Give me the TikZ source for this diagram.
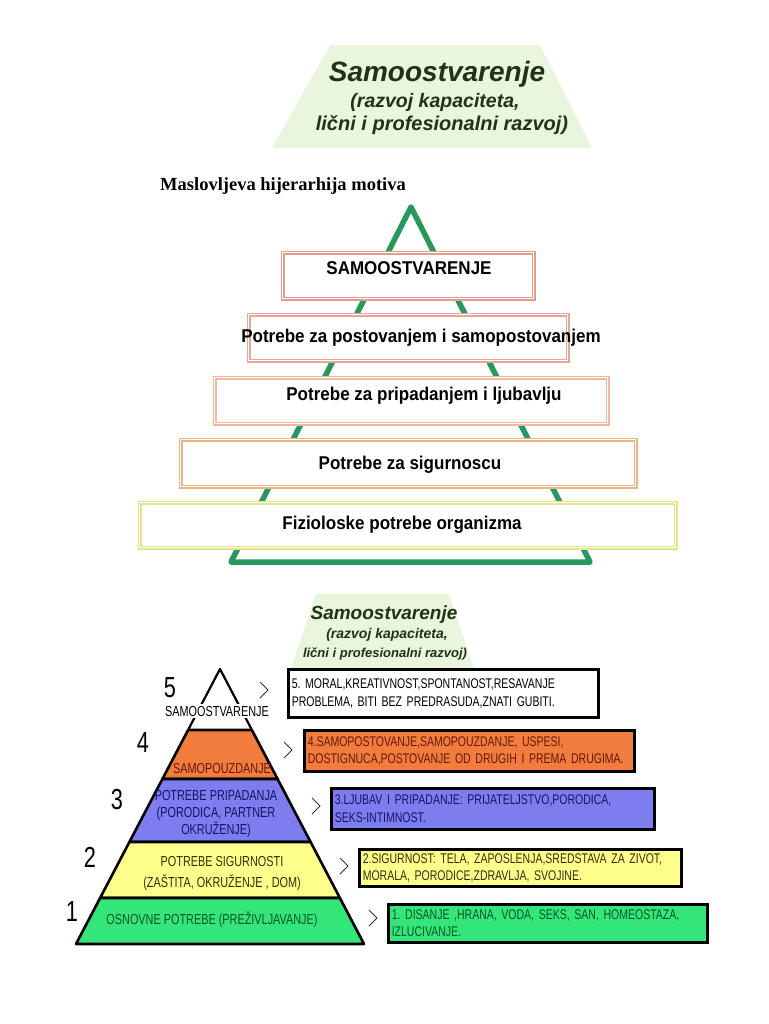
\documentclass[tikz,border=0pt]{standalone}
\usepackage{fontspec}
\setmainfont{Liberation Sans}
\newfontfamily\narrowfont[FakeStretch=0.75]{Liberation Sans}
\newfontfamily\boldnarrow[FakeStretch=0.92]{Liberation Sans}
\newfontfamily\titleserif{Liberation Serif}
\usepackage{tikz}
\usepackage{tkz-euclide}
\definecolor{paleleaf}{RGB}{233,245,220}
\definecolor{leafink}{RGB}{30,52,18}
\definecolor{pinegreen}{RGB}{40,152,92}
\definecolor{rimA}{RGB}{226,158,140}
\definecolor{rimB}{RGB}{230,168,150}
\definecolor{rimC}{RGB}{236,186,160}
\definecolor{rimD}{RGB}{236,182,132}
\definecolor{rimE}{RGB}{232,228,140}
\definecolor{tangerine}{RGB}{242,124,62}
\definecolor{periwinkle}{RGB}{125,125,240}
\definecolor{lemon}{RGB}{255,255,140}
\definecolor{mint}{RGB}{52,230,122}
\definecolor{inkorange}{RGB}{100,25,10}
\definecolor{inkblue}{RGB}{20,20,100}
\definecolor{inkyellow}{RGB}{55,45,10}
\definecolor{inkgreen}{RGB}{10,85,40}
\frenchspacing
\begin{document}
\begin{tikzpicture}[x=1pt, y=-1pt,
    rimbox/.style={draw=#1, double=white, double distance=1.8pt, line width=1.1pt, fill=white, anchor=north west, inner sep=0pt},
    rimtext/.style={font=\boldnarrow\bfseries\fontsize{18.5}{20}\selectfont, inner sep=0pt},
    leafhead/.style={text=leafink, font=\bfseries\itshape\fontsize{#1}{#1}\selectfont, inner sep=0pt, anchor=base},
    tier/.style={fill=#1, draw=black, line width=2.6pt, line join=round},
    tiertext/.style={font=\narrowfont\fontsize{14.5}{17}\selectfont, inner sep=0pt, text=#1},
    tiernum/.style={font=\narrowfont\fontsize{29}{29}\selectfont, inner sep=0pt},
    notebox/.style={draw=black, line width=2.6pt, anchor=north west, inner sep=3.5pt, align=left, font=\narrowfont\fontsize{14}{17.5}\selectfont},
    chevron/.style={draw=black!80, line width=1pt}]
  \useasboundingbox (0,0) rectangle (768,1024);

  \tkzDefPoints{330/45/Ta, 540/45/Tb, 592/148/Tc, 272/148/Td}
  \tkzFillPolygon[color=paleleaf](Ta,Tb,Tc,Td)
  \node[leafhead=28] (crown) at (437,82) {Samoostvarenje};
  \node[leafhead=19.5] (crowna) at (435,108) {(razvoj kapaciteta,};
  \node[leafhead=20] (crownb) at (442,131) {lični i profesionalni razvoj)};

  \node[font=\titleserif\bfseries\fontsize{18.5}{20}\selectfont, inner sep=0pt, anchor=base west] (title) at (160,191) {Maslovljeva hijerarhija motiva};

  \tkzDefPoints{411/207/A, 590/562/B, 231/562/C}
  \tkzDrawPolygon[color=pinegreen, line width=5.5pt](A,B,C)

  \node[rimbox=rimA, minimum width=251pt, minimum height=46pt] (need5) at (282,252) {};
  \node[rimbox=rimB, minimum width=319pt, minimum height=46pt] (need4) at (248,314) {};
  \node[rimbox=rimC, minimum width=393pt, minimum height=46pt] (need3) at (214,377) {};
  \node[rimbox=rimD, minimum width=455pt, minimum height=47pt] (need2) at (180,439) {};
  \node[rimbox=rimE, minimum width=536pt, minimum height=45pt] (need1) at (139,502) {};
  \node[rimtext] (needt5) at (409,268) {SAMOOSTVARENJE};
  \node[rimtext] (needt4) at (421,338) {Potrebe za postovanjem i samopostovanjem};
  \node[rimtext] (needt3) at (424,396) {Potrebe za pripadanjem i ljubavlju};
  \node[rimtext] (needt2) at (410,465) {Potrebe za sigurnoscu};
  \node[rimtext] (needt1) at (402,525) {Fizioloske potrebe organizma};

  \tkzDefPoints{316/594/Sa, 449/594/Sb, 474/668/Sc, 291/668/Sd}
  \tkzFillPolygon[color=paleleaf](Sa,Sb,Sc,Sd)
  \node[leafhead=19] (peak) at (384,619) {Samoostvarenje};
  \node[leafhead=14] (peaka) at (387,638) {(razvoj kapaciteta,};
  \node[leafhead=13] (peakb) at (385,657) {lični i profesionalni razvoj)};

  \tkzDefPoints{220/669/P, 188.1/730/L1, 251.9/730/R1, 162.4/779/L2, 277.6/779/R2,
    129.4/842/L3, 310.6/842/R3, 100.1/898/L4, 339.9/898/R4, 76/944/L5, 364/944/R5}
  \tkzDrawSegments[line width=2.2pt](P,L1 P,R1)
  \tkzDrawPolygon[tier=tangerine](L1,R1,R2,L2)
  \tkzDrawPolygon[tier=periwinkle](L2,R2,R3,L3)
  \tkzDrawPolygon[tier=lemon](L3,R3,R4,L4)
  \tkzDrawPolygon[tier=mint](L4,R4,R5,L5)

  \node[tiertext=black, fill=white, inner sep=2pt] (lab5) at (217,711) {SAMOOSTVARENJE};
  \node[tiertext=inkorange] (lab4) at (222,768) {SAMOPOUZDANJE};
  \node[tiertext=inkblue, align=center] (lab3) at (216,814) {POTREBE PRIPADANJA\\(PORODICA, PARTNER\\OKRUŽENJE)};
  \node[tiertext=inkyellow, align=center] (lab2) at (222,873) {POTREBE SIGURNOSTI\\[4pt](ZAŠTITA, OKRUŽENJE , DOM)};
  \node[tiertext=inkgreen] (lab1) at (212,920) {OSNOVNE POTREBE (PREŽIVLJAVANJE)};

  \node[tiernum] (num5) at (170,688) {5};
  \node[tiernum] (num4) at (143,743) {4};
  \node[tiernum] (num3) at (117,800) {3};
  \node[tiernum] (num2) at (90,857) {2};
  \node[tiernum] (num1) at (72,912) {1};

  \draw[chevron] (260,682) -- (268,690) -- (260,698);
  \draw[chevron] (284,742) -- (292,750) -- (284,758);
  \draw[chevron] (312,798) -- (320,806) -- (312,814);
  \draw[chevron] (340,858) -- (348,866) -- (340,874);
  \draw[chevron] (369,910) -- (377,918) -- (369,926);

  \node[notebox, fill=white, text width=303pt, minimum height=48pt] (note5) at (287,668)
    {5. MORAL,KREATIVNOST,SPONTANOST,RESAVANJE\\PROBLEMA, BITI BEZ PREDRASUDA,ZNATI GUBITI.};
  \node[notebox, fill=tangerine, text=inkorange, text width=323pt, minimum height=41pt] (note4) at (303,729)
    {4.SAMOPOSTOVANJE,SAMOPOUZDANJE, USPESI,\\DOSTIGNUCA,POSTOVANJE OD DRUGIH I PREMA DRUGIMA.};
  \node[notebox, fill=periwinkle, text=inkblue, text width=316pt, minimum height=41pt] (note3) at (330,787)
    {3.LJUBAV I PRIPADANJE: PRIJATELJSTVO,PORODICA,\\SEKS-INTIMNOST.};
  \node[notebox, fill=lemon, text=inkyellow, text width=315pt, minimum height=37pt] (note2) at (358,848)
    {2.SIGURNOST: TELA, ZAPOSLENJA,SREDSTAVA ZA ZIVOT,\\MORALA, PORODICE,ZDRAVLJA, SVOJINE.};
  \node[notebox, fill=mint, text=inkgreen, text width=312pt, minimum height=38pt] (note1) at (387,903)
    {1. DISANJE ,HRANA, VODA, SEKS, SAN, HOMEOSTAZA,\\IZLUCIVANJE.};
\end{tikzpicture}
\end{document}
